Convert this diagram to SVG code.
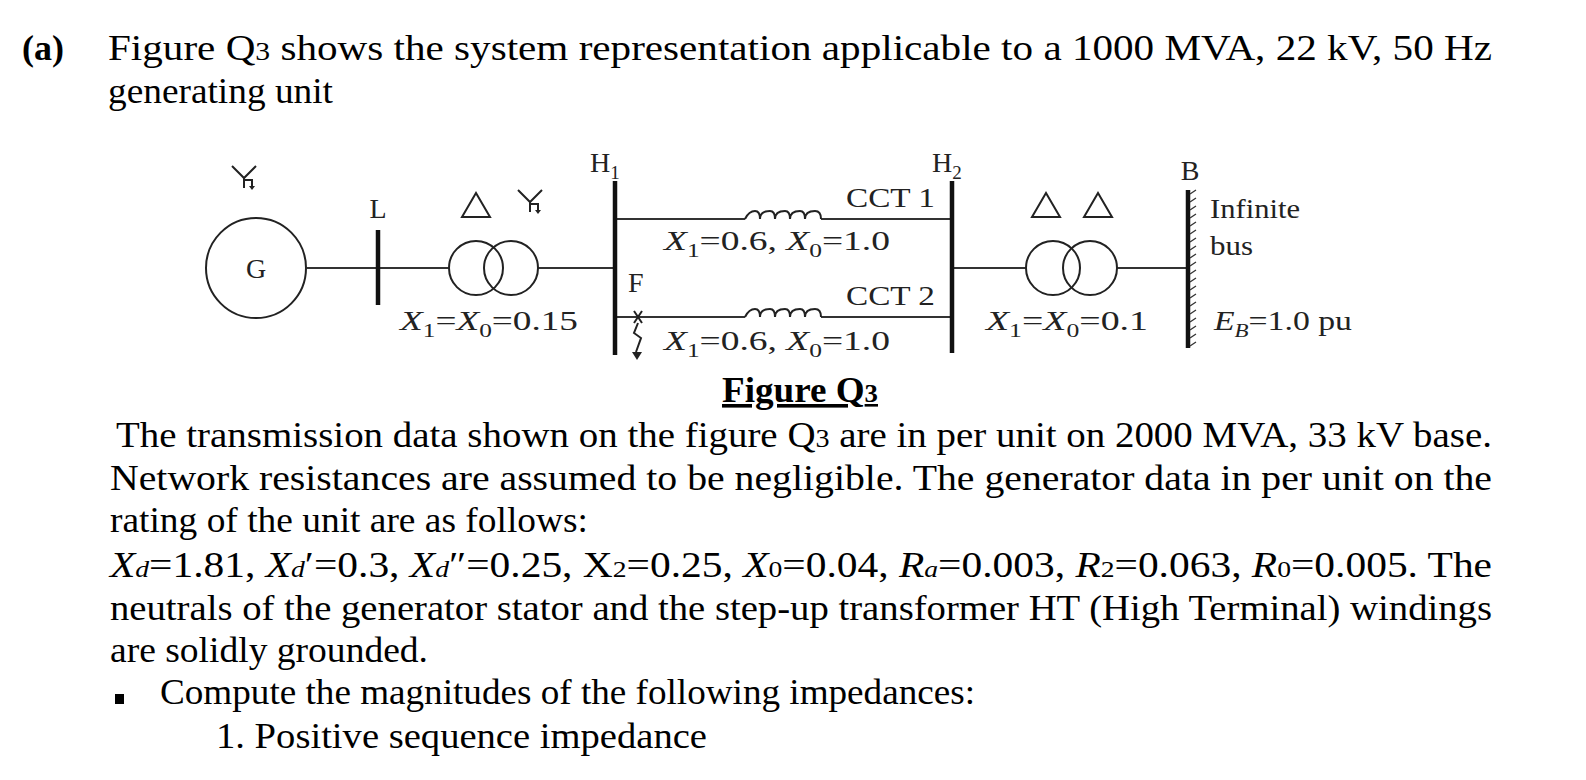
<svg xmlns="http://www.w3.org/2000/svg" width="1586" height="780" viewBox="0 0 1586 780">
<style>
.t{font-family:"Liberation Serif",serif;font-size:36px;fill:#000}
.d{font-family:"Liberation Serif",serif;font-size:28px;fill:#222}
.i{font-style:italic}
.w{fill:none;stroke:#222;stroke-width:2}
.bus{stroke:#111;stroke-width:4.5}
.ln{stroke:#333;stroke-width:2;fill:none}
</style>
<defs>
<g id="wye"><path class="w" d="M-12,-10 L0,2 L12,-10 M0,2 V12 M0,4 H8 V10"/><path d="M5,10 H11 L8,14 Z" fill="#222"/></g>
<path id="delta" class="w" d="M-14,12 L0,-12 L14,12 Z"/>
<path id="coil" class="w" d="M0,0 q4,-8 10,-8 q5,0 5,8 q0,-8 10,-8 q5,0 5,8 q0,-8 10,-8 q5,0 5,8 q0,-8 10,-8 q5,0 5,8 q0,-8 10,-8 q6,0 6,8"/>
</defs>
<text class="t" x="22" y="60" font-weight="bold" font-size="34">(a)</text>
<text class="t" x="108" y="60" textLength="1384" lengthAdjust="spacingAndGlyphs">Figure Q<tspan font-size="26">3</tspan> shows the system representation applicable to a 1000 MVA, 22 kV, 50 Hz</text>
<text class="t" x="108" y="103" textLength="225" lengthAdjust="spacingAndGlyphs">generating unit</text>

<g id="connectors">
<line class="ln" x1="307" y1="268" x2="378" y2="268"/>
<line class="ln" x1="378" y1="268" x2="449" y2="268"/>
<line class="ln" x1="538" y1="268" x2="615" y2="268"/>
<line class="ln" x1="615" y1="219" x2="745" y2="219"/>
<line class="ln" x1="821" y1="219" x2="952" y2="219"/>
<line class="ln" x1="615" y1="317" x2="745" y2="317"/>
<line class="ln" x1="821" y1="317" x2="952" y2="317"/>
<line class="ln" x1="952" y1="268" x2="1026" y2="268"/>
<line class="ln" x1="1117" y1="268" x2="1188" y2="268"/>
</g>
<g id="G"><circle class="w" cx="256" cy="268" r="50"/><text class="d" x="256" y="278" text-anchor="middle">G</text><use href="#wye" x="244" y="176"/></g>
<g id="busL"><line class="bus" x1="378" y1="230" x2="378" y2="305" stroke-width="3"/><text class="d" x="378" y="218" text-anchor="middle">L</text></g>
<g id="T1"><circle class="w" cx="476" cy="268" r="27"/><circle class="w" cx="511" cy="268" r="27"/><use href="#delta" x="476" y="205"/><use href="#wye" x="530" y="200"/>
<text class="d" x="400" y="330" textLength="178" lengthAdjust="spacingAndGlyphs"><tspan class="i">X</tspan><tspan font-size="19" dy="7">1</tspan><tspan dy="-7">=</tspan><tspan class="i">X</tspan><tspan font-size="19" dy="7">0</tspan><tspan dy="-7">=0.15</tspan></text></g>
<g id="H1"><line class="bus" x1="615" y1="181" x2="615" y2="355"/><text class="d" x="590" y="172">H<tspan font-size="19" dy="7">1</tspan></text></g>
<g id="CCT1"><use href="#coil" x="745" y="219"/><text class="d" x="846" y="207" textLength="89" lengthAdjust="spacingAndGlyphs">CCT 1</text>
<text class="d" x="664" y="250" textLength="226" lengthAdjust="spacingAndGlyphs"><tspan class="i">X</tspan><tspan font-size="19" dy="7">1</tspan><tspan dy="-7">=0.6, </tspan><tspan class="i">X</tspan><tspan font-size="19" dy="7">0</tspan><tspan dy="-7">=1.0</tspan></text></g>
<g id="CCT2"><use href="#coil" x="745" y="317"/><text class="d" x="846" y="305" textLength="89" lengthAdjust="spacingAndGlyphs">CCT 2</text>
<text class="d" x="664" y="350" textLength="226" lengthAdjust="spacingAndGlyphs"><tspan class="i">X</tspan><tspan font-size="19" dy="7">1</tspan><tspan dy="-7">=0.6, </tspan><tspan class="i">X</tspan><tspan font-size="19" dy="7">0</tspan><tspan dy="-7">=1.0</tspan></text></g>
<g id="F"><text class="d" x="628" y="292">F</text><path class="w" d="M634,311 L642,323 M642,311 L634,323 M638,323 L634,333 L641,338 L636,352"/><path d="M632,352 H642 L637,360 Z" fill="#222"/></g>
<g id="H2"><line class="bus" x1="952" y1="181" x2="952" y2="353"/><text class="d" x="932" y="172">H<tspan font-size="19" dy="7">2</tspan></text></g>
<g id="T2"><circle class="w" cx="1053" cy="268" r="27"/><circle class="w" cx="1090" cy="268" r="27"/><use href="#delta" x="1046" y="205"/><use href="#delta" x="1098" y="205"/>
<text class="d" x="986" y="330" textLength="162" lengthAdjust="spacingAndGlyphs"><tspan class="i">X</tspan><tspan font-size="19" dy="7">1</tspan><tspan dy="-7">=</tspan><tspan class="i">X</tspan><tspan font-size="19" dy="7">0</tspan><tspan dy="-7">=0.1</tspan></text></g>
<g id="B"><line class="bus" x1="1188" y1="190" x2="1188" y2="348"/>
<path stroke="#333" stroke-width="1.3" d="M1190,194 l6,-4 M1190,202 l6,-4 M1190,210 l6,-4 M1190,218 l6,-4 M1190,226 l6,-4 M1190,234 l6,-4 M1190,242 l6,-4 M1190,250 l6,-4 M1190,258 l6,-4 M1190,266 l6,-4 M1190,274 l6,-4 M1190,282 l6,-4 M1190,290 l6,-4 M1190,298 l6,-4 M1190,306 l6,-4 M1190,314 l6,-4 M1190,322 l6,-4 M1190,330 l6,-4 M1190,338 l6,-4 M1190,346 l6,-4"/>
<text class="d" x="1190" y="180" text-anchor="middle">B</text>
<text class="d" x="1210" y="218" textLength="90" lengthAdjust="spacingAndGlyphs">Infinite</text><text class="d" x="1210" y="255" textLength="43" lengthAdjust="spacingAndGlyphs">bus</text>
<text class="d" x="1214" y="330" textLength="138" lengthAdjust="spacingAndGlyphs"><tspan class="i">E</tspan><tspan class="i" font-size="19" dy="7">B</tspan><tspan dy="-7">=1.0 pu</tspan></text></g>

<text class="t" x="722" y="402" font-weight="bold" font-size="34" text-decoration="underline" textLength="156" lengthAdjust="spacingAndGlyphs">Figure Q<tspan font-size="26">3</tspan></text>
<text class="t" x="116" y="447" textLength="1376" lengthAdjust="spacingAndGlyphs">The transmission data shown on the figure Q<tspan font-size="26">3</tspan> are in per unit on 2000 MVA, 33 kV base.</text>
<text class="t" x="110" y="490" textLength="1382" lengthAdjust="spacingAndGlyphs">Network resistances are assumed to be negligible. The generator data in per unit on the</text>
<text class="t" x="110" y="532" textLength="478" lengthAdjust="spacingAndGlyphs">rating of the unit are as follows:</text>
<text class="t" x="110" y="577" textLength="1382" lengthAdjust="spacingAndGlyphs"><tspan class="i">X</tspan><tspan class="i" font-size="24">d</tspan>=1.81,  <tspan class="i">X</tspan><tspan class="i" font-size="24">d</tspan>′=0.3,  <tspan class="i">X</tspan><tspan class="i" font-size="24">d</tspan>″=0.25,  X<tspan font-size="24">2</tspan>=0.25,  <tspan class="i">X</tspan><tspan font-size="24">0</tspan>=0.04,  <tspan class="i">R</tspan><tspan class="i" font-size="24">a</tspan>=0.003,  <tspan class="i">R</tspan><tspan font-size="24">2</tspan>=0.063,  <tspan class="i">R</tspan><tspan font-size="24">0</tspan>=0.005.  The</text>
<text class="t" x="110" y="620" textLength="1382" lengthAdjust="spacingAndGlyphs">neutrals of the generator stator and the step-up transformer HT (High Terminal) windings</text>
<text class="t" x="110" y="662" textLength="318" lengthAdjust="spacingAndGlyphs">are solidly grounded.</text>
<rect x="115" y="694" width="9" height="10" fill="#000"/>
<text class="t" x="160" y="704" textLength="815" lengthAdjust="spacingAndGlyphs">Compute the magnitudes of the following impedances:</text>
<text class="t" x="216" y="748" textLength="491" lengthAdjust="spacingAndGlyphs">1.  Positive sequence impedance</text>
</svg>
